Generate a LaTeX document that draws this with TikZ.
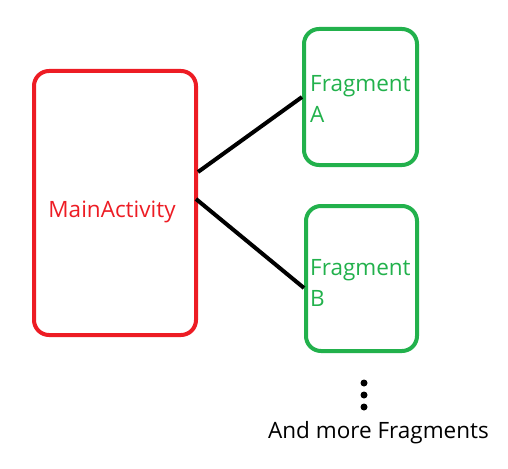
\documentclass[tikz,border=0pt]{standalone}
\usepackage{fontspec}
\setmainfont{Open Sans}
\definecolor{actred}{RGB}{237,28,36}
\definecolor{fraggreen}{RGB}{34,177,76}
\begin{document}
\begin{tikzpicture}[x=1pt,y=-1pt,
  box/.style={draw,line width=4pt,rounded corners=15pt,inner sep=0pt},
  lbl/.style={inner sep=0pt,font=\fontsize{22.5}{31}\selectfont},
  link/.style={black,line width=4pt}]
\useasboundingbox (0,0) rectangle (508,468);
\node [box,actred,minimum width=162pt,minimum height=264pt] (main) at (115,203) {};
\node [lbl,actred,anchor=base] (mainlabel) at (112,217) {MainActivity};
\node [box,fraggreen,minimum width=113pt,minimum height=136pt] (fragA) at (360.5,97) {};
\node [lbl,fraggreen,anchor=base west,align=left] (fragAlabel) at (310,122) {Fragment\\A};
\node [box,fraggreen,minimum width=111pt,minimum height=145pt] (fragB) at (361.5,278.5) {};
\node [lbl,fraggreen,anchor=base west,align=left] (fragBlabel) at (310,306) {Fragment\\B};
\coordinate (mainA) at ([yshift=31pt]main.east);
\coordinate (mainB) at ([yshift=4pt,xshift=-2pt]main.east);
\coordinate (fragBin) at ([yshift=-9.5pt]fragB.west);
\draw [link] (mainA) -- (fragA.west);
\draw [link] (mainB) -- (fragBin);
\foreach \y in {383,395,407}
  \fill [black] (364,\y) circle (3.5pt);
\node [lbl,anchor=base] (more) at (378.5,438) {And more Fragments};
\end{tikzpicture}
\end{document}
